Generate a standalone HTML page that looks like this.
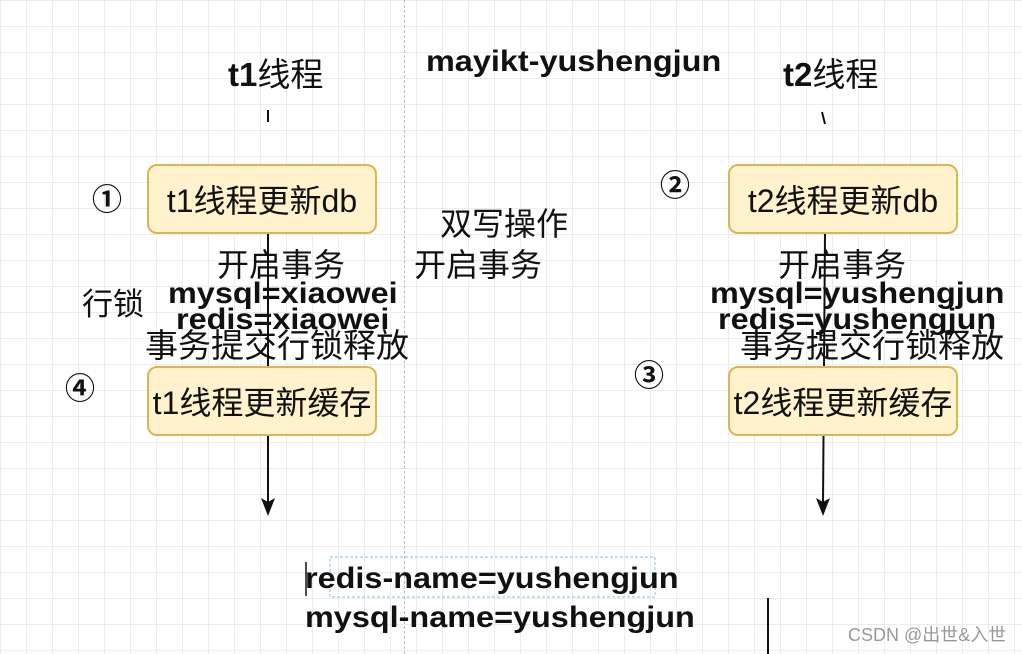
<!DOCTYPE html>
<html><head><meta charset="utf-8"><style>
body{margin:0;width:1022px;height:654px;overflow:hidden;background:#fff;
background-image:linear-gradient(#ececec 1px,transparent 1px),linear-gradient(90deg,#ececec 1px,transparent 1px);background-size:26px 26px;
font-family:"Liberation Sans","Noto Sans CJK SC",sans-serif;position:relative;color:#111}
.t{position:absolute;white-space:nowrap;line-height:1}
.b{font-weight:bold;transform:scaleX(1.08);transform-origin:left center}
.box{position:absolute;width:230px;height:70px;background:#fff2cc;border:2px solid #d6b656;border-radius:10px;box-sizing:border-box;display:flex;align-items:center;justify-content:center;font-size:32px}
.c{font-size:30px;font-weight:bold}
</style></head><body>
<div style="position:absolute;left:404px;top:0;height:654px;border-left:1px dashed #bbb"></div>
<svg width="1022" height="654" style="position:absolute;left:0;top:0">
<line x1="268" y1="110" x2="268" y2="122" stroke="#111" stroke-width="2"/>
<line x1="822" y1="112" x2="825" y2="124" stroke="#111" stroke-width="2"/>
<line x1="268" y1="233" x2="268" y2="505" stroke="#111" stroke-width="2"/>
<polygon points="261,498 268,516 275,498 268,502" fill="#111"/>
<line x1="825" y1="233" x2="823" y2="505" stroke="#111" stroke-width="2"/>
<polygon points="816,498 823,516 830,498 823,502" fill="#111"/>
<line x1="768" y1="598" x2="768" y2="654" stroke="#111" stroke-width="2"/>
<line x1="306" y1="562" x2="306" y2="596" stroke="#111" stroke-width="1.5"/>
<rect x="330" y="557" width="325" height="40" fill="none" stroke="#7cc6e6" stroke-dasharray="3,2"/>
</svg>
<div class="box" style="left:147px;top:164px">t1线程更新db</div>
<div class="box" style="left:147px;top:366px">t1线程更新缓存</div>
<div class="box" style="left:728px;top:164px">t2线程更新db</div>
<div class="box" style="left:728px;top:366px">t2线程更新缓存</div>
<div class="t" style="left:228px;top:58px;font-size:33px"><b>t1</b>线程</div>
<div class="t" style="left:783px;top:58px;font-size:33px"><b>t2</b>线程</div>
<div class="t b" style="left:426px;top:47px;font-size:30px">mayikt-yushengjun</div>
<div class="t c" style="left:92px;top:186px">①</div>
<div class="t c" style="left:660px;top:172px">②</div>
<div class="t c" style="left:634px;top:362px">③</div>
<div class="t c" style="left:65px;top:375px">④</div>
<div class="t" style="left:440px;top:208px;font-size:32px">双写操作</div>
<div class="t" style="left:414px;top:249px;font-size:32px">开启事务</div>
<div class="t" style="left:82px;top:289px;font-size:31px">行锁</div>
<div class="t" style="left:217px;top:249px;font-size:32px">开启事务</div>
<div class="t b" style="left:168px;top:279px;font-size:30px">mysql=xiaowei</div>
<div class="t b" style="left:176px;top:305px;font-size:30px">redis=xiaowei</div>
<div class="t" style="left:145px;top:329px;font-size:33px">事务提交行锁释放</div>
<div class="t" style="left:778px;top:249px;font-size:32px">开启事务</div>
<div class="t b" style="left:710px;top:279px;font-size:30px">mysql=yushengjun</div>
<div class="t b" style="left:718px;top:305px;font-size:30px">redis=yushengjun</div>
<div class="t" style="left:740px;top:329px;font-size:33px">事务提交行锁释放</div>
<div class="t b" style="left:305px;top:564px;font-size:30px">redis-name=yushengjun</div>
<div class="t b" style="left:305px;top:603px;font-size:30px">mysql-name=yushengjun</div>
<div class="t" style="left:848px;top:626px;font-size:18px;color:#999">CSDN @出世&amp;入世</div>
</body></html>
